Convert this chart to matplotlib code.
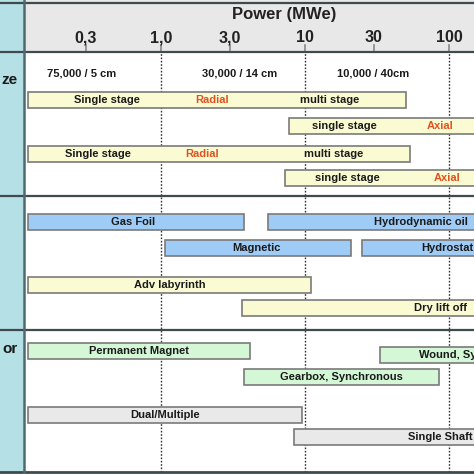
import matplotlib
matplotlib.use("Agg")
import matplotlib.pyplot as plt
import matplotlib.transforms as mtrans
from matplotlib.patches import Rectangle

plt.rcParams['font.family'] = ['Liberation Sans', 'DejaVu Sans']

# ---------------- data ----------------
tick_values = [0.3, 1.0, 3.0, 10, 30, 100]
tick_labels = ["0,3", "1,0", "3,0", "10", "30", "100"]
dotted_values = [1.0, 10, 100]

size_labels = ["75,000 / 5 cm", "30,000 / 14 cm", "10,000 / 40cm"]
size_label_x = [0.283, 3.54, 29.7]

# bars: start, end (MWe), colour category
bar_start = [0.119, 7.74, 0.119, 7.26,
             0.119, 5.53, 1.066, 24.9, 0.119, 3.65,
             0.119, 33.2, 3.77, 0.119, 8.39]
bar_end = [50.3, 300, 53.6, 300,
           3.77, 300, 20.9, 300, 11.0, 300,
           4.15, 300, 85.3, 9.53, 300]
bar_kind = ["yellow", "yellow", "yellow", "yellow",
            "blue", "blue", "blue", "blue", "yellow", "yellow",
            "green", "green", "green", "gray", "gray"]
# vertical layout rows (centre positions in layout units)
bar_row = [100, 126, 154, 178,
           222, 222, 248, 248, 285, 308,
           351, 355, 377, 415, 437]

# labels: text, x (MWe), row, alignment, colour
label_text = ["Single stage", "Radial", "multi stage",
              "single stage", "Axial",
              "Single stage", "Radial", "multi stage",
              "single stage", "Axial",
              "Gas Foil", "Hydrodynamic oil", "Magnetic", "Hydrostatic",
              "Adv labyrinth", "Dry lift off",
              "Permanent Magnet", "Wound, Synchronous", "Gearbox, Synchronous",
              "Dual/Multiple", "Single Shaft"]
label_x = [0.422, 2.26, 14.9,
           18.7, 86.6,
           0.365, 1.93, 15.9,
           19.6, 96.8,
           0.64, 30.2, 4.6, 63.9,
           1.16, 57.1,
           0.70, 61.9, 18.0,
           1.06, 51.9]
label_row = [100, 100, 100,
             126, 126,
             154, 154, 154,
             178, 178,
             222, 222, 248, 248,
             285, 308,
             351, 355, 377,
             415, 437]
label_ha = ["center"] * 10 + ["center", "left", "center", "left",
                              "center", "left",
                              "center", "left", "center",
                              "center", "left"]
label_red = [False, True, False, False, True, False, True, False, False, True] + [False] * 11

section_lines = [196, 330]
strip_text = ["ze", "or"]
strip_row = [80, 349]

colors = {"yellow": "#fbfbd3", "blue": "#9fccf7", "green": "#d4f7d6", "gray": "#e9e9e9"}

# ---------------- figure ----------------
W = H = 474
fig = plt.figure(figsize=(4.74, 4.74), dpi=100)
fig.patch.set_facecolor("white")

left_px = 24
hdr_bot = 52
bot_px = 472
xlim = (10 ** ((left_px - 161) / 144.0), 10 ** ((474 - 161) / 144.0))

def fpos(x0, y0, x1, y1):
    return [x0 / W, 1 - y1 / H, (x1 - x0) / W, (y1 - y0) / H]

# header axes
hx = fig.add_axes(fpos(left_px, 0, W, hdr_bot))
hx.set_xscale("log")
hx.set_xlim(*xlim)
hx.set_ylim(hdr_bot, 0)
hx.axis("off")
hx.add_patch(Rectangle((0, 0), 1, 1, transform=hx.transAxes, color="#e8e8e8", zorder=0))
hx.text(0.579, 15, "Power (MWe)",
        transform=mtrans.blended_transform_factory(hx.transAxes, hx.transData),
        ha="center", va="center", fontsize=12, fontweight="bold", color="#222222")
for v, t in zip(tick_values, tick_labels):
    hx.text(v, 38, t, ha="center", va="center", fontsize=11.5, fontweight="bold", color="#222222")
    hx.plot([v, v], [45, hdr_bot], color="#888888", lw=1.2)

# main axes
ax = fig.add_axes(fpos(left_px, hdr_bot, W, bot_px))
ax.set_xscale("log")
ax.set_xlim(*xlim)
ax.set_ylim(bot_px, hdr_bot)
ax.axis("off")

for v in dotted_values:
    ax.axvline(v, color="#333333", lw=1.0, ls=(0, (1.2, 1.2)), zorder=1)

bar_h = 16
for s, e, k, r in zip(bar_start, bar_end, bar_kind, bar_row):
    ax.add_patch(Rectangle((s, r - bar_h / 2), e - s, bar_h, facecolor=colors[k],
                           edgecolor="#7a7a7a", lw=1.2, zorder=2))

for t, x, r, ha, red in zip(label_text, label_x, label_row, label_ha, label_red):
    ax.text(x, r, t, ha=ha, va="center", fontsize=8, fontweight="bold",
            color="#e0521f" if red else "#1a1a1a", zorder=3, clip_on=True)

for t, x in zip(size_labels, size_label_x):
    ax.text(x, 73, t, ha="center", va="center", fontsize=8, fontweight="bold", color="#1a1a1a")

# left strip
sx = fig.add_axes(fpos(0, 0, left_px, bot_px))
sx.set_xlim(0, left_px)
sx.set_ylim(bot_px, 0)
sx.axis("off")
sx.add_patch(Rectangle((0, 0), 1, 1, transform=sx.transAxes, color="#b5e0e6", zorder=0))
for t, r in zip(strip_text, strip_row):
    sx.text(18, r, t, ha="right", va="center", fontsize=11, fontweight="bold",
            color="#1a1a1a", clip_on=True)

# frame lines in a full-figure overlay
ov = fig.add_axes([0, 0, 1, 1])
ov.set_xlim(0, W)
ov.set_ylim(H, 0)
ov.axis("off")
lc = "#3f4a4c"
ov.plot([0, W], [3, 3], color=lc, lw=1.6)
ov.plot([0, W], [hdr_bot, hdr_bot], color=lc, lw=1.6)
for y in section_lines:
    ov.plot([0, W], [y, y], color=lc, lw=1.6)
ov.plot([0, W], [bot_px, bot_px], color=lc, lw=2.0)
ov.plot([left_px, left_px], [0, bot_px], color="#4e6a6e", lw=1.8)

fig.savefig("out.png", dpi=100)
